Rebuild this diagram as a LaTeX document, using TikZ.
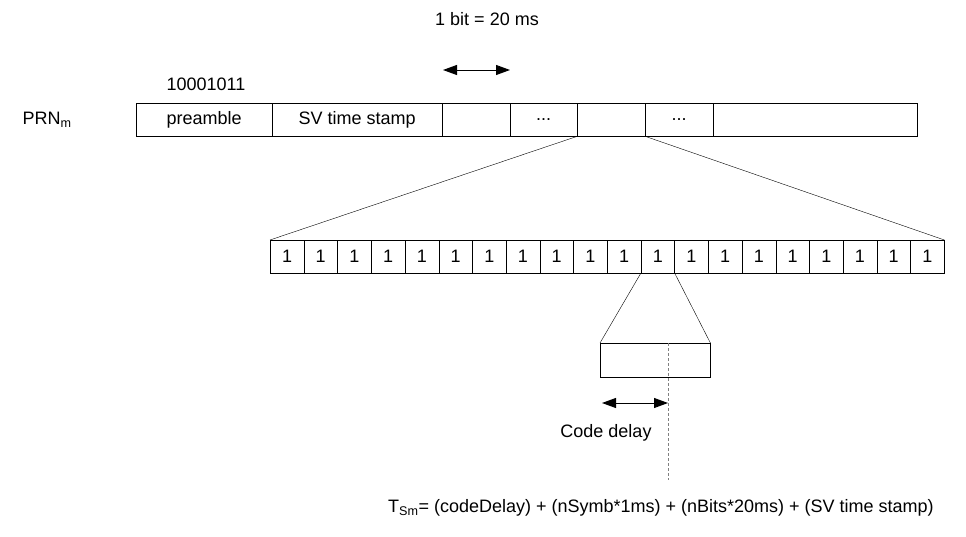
\documentclass[tikz,border=0pt]{standalone}
\usepackage{fontspec}
\setmainfont{Liberation Sans}
\usetikzlibrary{arrows.meta}
\begin{document}
\begin{tikzpicture}[x=1pt,y=-1pt,font=\fontsize{18}{20}\selectfont,
  cell/.style={draw,minimum height=33pt,inner sep=0pt,anchor=north west},
  dbl/.style={{Triangle[length=14pt,width=10pt]}-{Triangle[length=14pt,width=10pt]},line width=0.9pt}]
\useasboundingbox (0,0) rectangle (966,537);
\node[cell,minimum width=136pt] (p) at (136,103) {preamble};
\node[cell,minimum width=170pt] (sv) at (272,103) {SV time stamp};
\node[cell,minimum width=68pt] (c1) at (442,103) {};
\node[cell,minimum width=67pt] (c2) at (510,103) {...};
\node[cell,minimum width=68pt] (c3) at (577,103) {};
\node[cell,minimum width=68pt] (c4) at (645,103) {...};
\node[cell,minimum width=204pt] (c5) at (713,103) {};
\node (prn) at (47,120) {PRN$_{\mathrm m}$};
\node (pre) at (206,84) {10001011};
\node (bit) at (487,19) {1 bit = 20 ms};
\coordinate (a1) at (443,70); \coordinate (a2) at (510,70);
\draw[dbl] (a1) -- (a2);
\foreach \i in {0,...,19}{
  \node[cell,minimum width=33.7pt] (b\i) at (270+\i*33.7,240) {1};
}
\draw (c3.south west) -- (b0.north west);
\draw (c3.south east) -- (b19.north east);
\node[cell,minimum width=110pt,minimum height=34pt] (sb) at (600,343) {};
\draw (b11.south west) -- (sb.north west);
\draw (b11.south east) -- (sb.north east);
\coordinate (d1) at (668,343); \coordinate (d2) at (668,480);
\draw[densely dashed,gray] (d1) -- (d2);
\coordinate (e1) at (602,403); \coordinate (e2) at (668,403);
\draw[dbl] (e1) -- (e2);
\node (cd) at (606,433) {Code delay};
\node (f) at (661,508) {T$_{\mathrm{Sm}}$= (codeDelay) + (nSymb*1ms) + (nBits*20ms) + (SV time stamp)};
\end{tikzpicture}
\end{document}
